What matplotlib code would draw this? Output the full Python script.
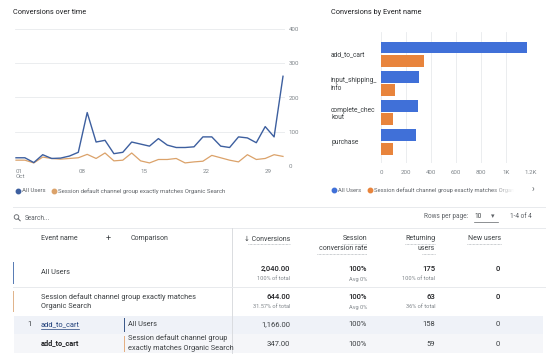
import matplotlib
matplotlib.use('Agg')
import matplotlib.pyplot as plt
import matplotlib.transforms as mtrans
import matplotlib.patches as mpatches
from matplotlib.lines import Line2D
import numpy as np

plt.rcParams['font.family'] = ['Roboto', 'DejaVu Sans']

W, H = 551, 356

# ---------------- data ----------------
days = list(range(1, 32))
all_users = [24, 24, 10, 33, 22, 23, 29, 40, 156, 70, 75, 36, 40, 70, 64, 58,
             80, 61, 54, 54, 56, 85, 85, 58, 54, 85, 82, 68, 115, 85, 262]
organic = [17, 17, 9, 26, 22, 20, 22, 24, 34, 22, 38, 15, 17, 38, 15, 9,
           19, 19, 22, 9, 12, 14, 31, 24, 17, 12, 33, 19, 22, 33, 28]
line_xticks = [1, 8, 15, 22, 29]
line_xticklabels = ['01\nOct', '08', '15', '22', '29']
line_yticks = [0, 100, 200, 300, 400]

events = ['add_to_cart', 'input_shipping_\ninfo', 'complete_chec\nkout', 'purchase']
bar_all = [1166, 300, 296, 278]
bar_org = [347, 110, 94, 93]
bar_xticks = [0, 200, 400, 600, 800, 1000, 1200]
bar_xticklabels = ['0', '200', '400', '600', '800', '1K', '1.2K']

series = ['All Users', 'Session default channel group exactly matches Organic Search']

headers = ['Event name', 'Comparison', '\u2193 Conversions', 'Session\nconversion rate',
           'Returning\nusers', 'New users']
tot_conv = ['2,040.00', '644.00']
tot_conv_sub = ['100% of total', '31.57% of total']
tot_rate = ['100%', '100%']
tot_rate_sub = ['Avg 0%', 'Avg 0%']
tot_ret = ['175', '63']
tot_ret_sub = ['100% of total', '36% of total']
tot_new = ['0', '0']
row_event = ['add_to_cart', 'add_to_cart']
row_comp = ['All Users', 'Session default channel group\nexactly matches Organic Search']
row_conv = ['1,166.00', '347.00']
row_rate = ['100%', '100%']
row_ret = ['158', '59']
row_new = ['0', '0']

# ---------------- colours ----------------
LBLUE = '#3d5f9f'
LORANGE = '#dba26a'
BBLUE = '#4070d8'
BORANGE = '#e8843c'
GRID = '#e8eaed'
TXT = '#3c4043'
SUB = '#80868b'

fig = plt.figure(figsize=(W / 100, H / 100), dpi=100)
fig.patch.set_facecolor('white')
pix = mtrans.Affine2D().scale(1 / 100, -1 / 100).translate(0, H / 100) + fig.dpi_scale_trans


def txt(x, y, s, size=5.0, color=TXT, ha='left', va='center', weight='normal', **kw):
    return fig.text(x, y, s, transform=pix, fontsize=size, color=color, ha=ha, va=va,
                    fontweight=weight, **kw)


def hline(x0, x1, y, color=GRID, lw=0.7, ls='-'):
    fig.add_artist(Line2D([x0, x1], [y, y], transform=pix, color=color, lw=lw, ls=ls))


def vline(x, y0, y1, color=GRID, lw=0.7):
    fig.add_artist(Line2D([x, x], [y0, y1], transform=pix, color=color, lw=lw))


def rect(x0, y0, x1, y1, color):
    fig.add_artist(mpatches.Rectangle((x0, y1), x1 - x0, y0 - y1, transform=pix,
                                      facecolor=color, edgecolor='none', zorder=0))


def dot(x, y, color):
    fig.add_artist(Line2D([x], [y], transform=pix, marker='o', ms=3.2, color=color, lw=0))


def axes_px(x0, y0, x1, y1):
    return fig.add_axes([x0 / W, 1 - y1 / H, (x1 - x0) / W, (y1 - y0) / H])


# ---------------- line chart ----------------
txt(13, 13, 'Conversions over time', size=5.3, color='#202124')
ax = axes_px(15, 29, 285, 166)
ax.plot(days, organic, color=LORANGE, lw=0.9, zorder=3)
ax.plot(days, all_users, color=LBLUE, lw=1.0, zorder=4)
ax.set_xlim(1 - 1 / 8.9, 31 + 2 / 8.9)
ax.set_ylim(0, 400)
ax.set_yticks(line_yticks)
ax.yaxis.tick_right()
ax.tick_params(axis='y', length=0, pad=2.5, labelsize=4.4, labelcolor=SUB)
ax.set_xticks(line_xticks)
ax.set_xticklabels(line_xticklabels, ha='left', va='top', linespacing=1.0)
ax.tick_params(axis='x', length=0, pad=2, labelsize=4.4, labelcolor=SUB)
ax.grid(axis='y', color=GRID, lw=0.6)
ax.set_axisbelow(True)
for s in ax.spines.values():
    s.set_visible(False)

dot(18, 191, LBLUE)
txt(22.5, 191, series[0], size=4.3, color='#5f6368')
dot(54, 191, LORANGE)
txt(58.5, 191, series[1], size=4.3, color='#5f6368')

# ---------------- bar chart ----------------
txt(331, 13, 'Conversions by Event name', size=5.3, color='#202124')
bx = axes_px(381, 32, 531, 163)
pos = np.arange(len(events))
bx.barh(pos - 0.23, bar_all, height=0.41, color=BBLUE, zorder=3)
bx.barh(pos + 0.23, bar_org, height=0.41, color=BORANGE, zorder=3)
bx.set_ylim(3.72, -0.76)
bx.set_xlim(0, 1200)
bx.set_xticks(bar_xticks)
bx.set_xticklabels(bar_xticklabels)
bx.tick_params(axis='x', length=0, pad=5, labelsize=4.4, labelcolor=SUB)
bx.set_yticks(pos)
bx.set_yticklabels(events, ha='left', multialignment='left', linespacing=1.15)
bx.tick_params(axis='y', length=0, pad=36, labelsize=4.8, labelcolor=TXT)
bx.grid(axis='x', color=GRID, lw=0.6)
bx.set_axisbelow(True)
for s in bx.spines.values():
    s.set_visible(False)

dot(333.5, 190, BBLUE)
txt(338, 190, series[0], size=4.2, color='#5f6368')
dot(369.5, 190, BORANGE)
# the legend entry is cut off and faded at the panel edge, as in the reference
leg2 = txt(374, 190, series[1][:51], size=4.2, color='#5f6368')
clip = mtrans.TransformedBbox(mtrans.Bbox.from_extents(370, 180, 522, 200), pix)
leg2.set_clip_box(clip)
leg2.set_clip_on(True)
fade = axes_px(492, 184, 523, 197)
fade.set_zorder(10)
grad = np.ones((1, 40, 4))
grad[0, :, 3] = np.clip(np.linspace(0, 1.4, 40), 0, 1)
fade.imshow(grad, aspect='auto', extent=[0, 1, 0, 1])
fade.axis('off')
txt(533, 189.5, '\u203a', size=6.5, color='#5f6368', ha='center')

# ---------------- table ----------------
hline(13, 545, 207)
fig.add_artist(mpatches.Circle((16.5, 217), 2.3, transform=pix, fill=False,
                               edgecolor='#5f6368', lw=0.6))
fig.add_artist(Line2D([18.2, 20.2], [218.8, 220.8], transform=pix, color='#5f6368', lw=0.7))
txt(25, 218, 'Search...', size=4.7, color='#5f6368')
txt(424, 217, 'Rows per page:', size=4.7, color='#5f6368')
txt(474, 216, '10', size=4.7, color=TXT)
hline(474, 498, 221.5, color='#5f6368', lw=0.5)
txt(493, 216, '\u25BE', size=5, color='#5f6368', ha='center', family='DejaVu Sans')
txt(510, 217, '1-4 of 4', size=4.7, color='#5f6368')
hline(13, 545, 228)

HS = 5.0
txt(41, 239, headers[0], size=HS, color=TXT)
txt(108, 239, '+', size=6.5, color=TXT, ha='center')
txt(131, 238, headers[1], size=HS, color=TXT)
txt(290, 239, headers[2], size=HS, color=TXT, ha='right')
hline(248, 290, 243.5, color='#9aa0a6', lw=0.5, ls=(0, (1, 1)))
h = headers[3].split('\n')
txt(367, 239, h[0], size=HS, color=TXT, ha='right')
txt(367, 249, h[1], size=HS, color=TXT, ha='right')
hline(342, 367, 243.5, color='#9aa0a6', lw=0.5, ls=(0, (1, 1)))
hline(317, 367, 253.5, color='#9aa0a6', lw=0.5, ls=(0, (1, 1)))
h = headers[4].split('\n')
txt(435, 239, h[0], size=HS, color=TXT, ha='right')
txt(435, 249, h[1], size=HS, color=TXT, ha='right')
hline(405, 435, 243.5, color='#9aa0a6', lw=0.5, ls=(0, (1, 1)))
hline(422, 435, 253.5, color='#9aa0a6', lw=0.5, ls=(0, (1, 1)))
txt(501, 239, headers[5], size=HS, color=TXT, ha='right')
hline(467, 501, 243.5, color='#9aa0a6', lw=0.5, ls=(0, (1, 1)))

vline(232, 228, 353, color='#dadce0')

TS = 5.35
VS = 5.5
rect(12.5, 262, 14, 284, '#5a7db5')
txt(41, 273, series[0], size=TS, color=TXT)
rect(12.5, 291, 14, 312, '#e0b48c')
txt(41, 297, 'Session default channel group exactly matches', size=TS, color=TXT)
txt(41, 307, 'Organic Search', size=TS, color=TXT)
for i, yc in enumerate([269, 297]):
    txt(290, yc, tot_conv[i], size=VS, color='#202124', ha='right', weight='medium')
    txt(290, yc + 10, tot_conv_sub[i], size=4.1, color=SUB, ha='right')
    txt(367, yc, tot_rate[i], size=VS, color='#202124', ha='right', weight='medium')
    txt(367, yc + 10, tot_rate_sub[i], size=4.1, color=SUB, ha='right')
    txt(435, yc, tot_ret[i], size=VS, color='#202124', ha='right', weight='medium')
    txt(435, yc + 10, tot_ret_sub[i], size=4.1, color=SUB, ha='right')
    txt(500, yc, tot_new[i], size=VS, color='#202124', ha='right', weight='medium')
hline(13, 545, 287)

rect(14, 316, 543, 334, '#eff2f8')
rect(14, 334, 543, 353, '#f5f6f9')
txt(27, 324.5, '1', size=TS, color=TXT)
txt(41, 324.5, row_event[0], size=TS, color='#1f3f7a')
hline(41, 79, 328.8, color='#1f3f7a', lw=0.5)
rect(123.5, 318, 125, 332, '#3d5a8a')
txt(128, 324.5, row_comp[0], size=TS, color=TXT)
txt(41, 343.5, row_event[1], size=TS, color='#202124', weight='bold')
rect(123.5, 336, 125, 352, '#e4b084')
rc = row_comp[1].split('\n')
txt(128, 338.5, rc[0], size=TS, color=TXT)
txt(128, 348.5, rc[1], size=TS, color=TXT)
for yc, i in [(324.5, 0), (343.5, 1)]:
    txt(290, yc, row_conv[i], size=VS, color=TXT, ha='right')
    txt(367, yc, row_rate[i], size=VS, color=TXT, ha='right')
    txt(435, yc, row_ret[i], size=VS, color=TXT, ha='right')
    txt(500, yc, row_new[i], size=VS, color=TXT, ha='right')

fig.savefig('out.png', dpi=100, facecolor='white')
